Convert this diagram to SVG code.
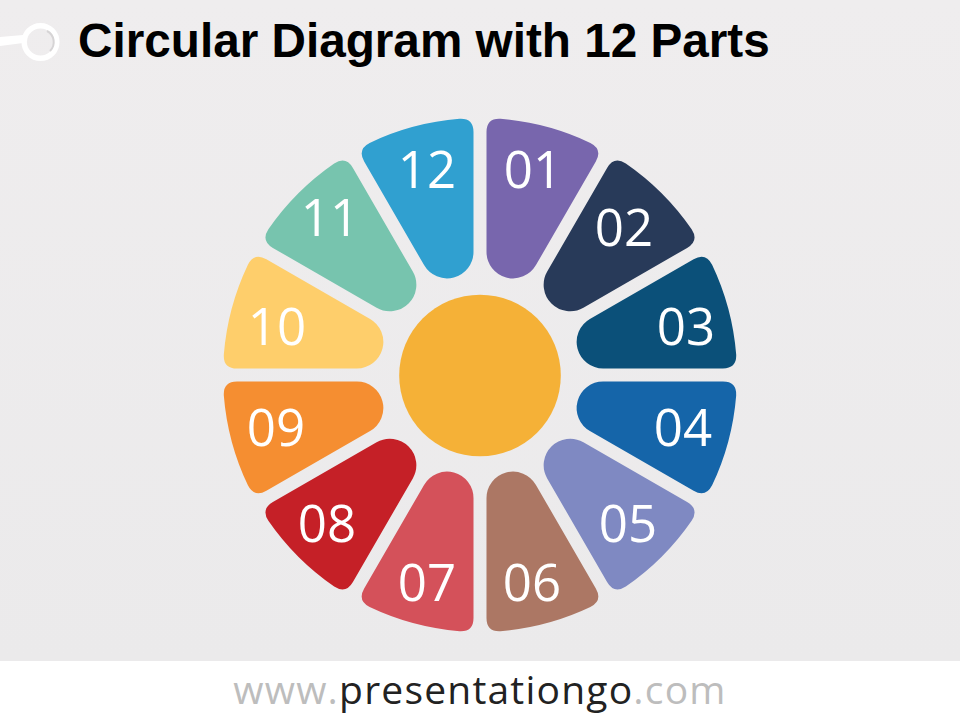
<svg xmlns="http://www.w3.org/2000/svg" width="960" height="720" viewBox="0 0 960 720">
  <style>
    .num { font-family: "Open Sans", "DejaVu Sans", sans-serif; font-size: 51px; fill: #ffffff; text-anchor: middle; }
    .title { font-family: "Liberation Sans", Arial, sans-serif; font-weight: bold; font-size: 47.7px; fill: #000000; }
    .foot { font-family: "Open Sans", "DejaVu Sans", sans-serif; font-size: 39px; text-anchor: middle; letter-spacing: 1.2px; }
    .light { fill: #BDBDBD; }
    .dark { fill: #222222; }
  </style>
  <defs>
    <linearGradient id="bg" x1="0" y1="0" x2="0" y2="1">
      <stop offset="0" stop-color="#EFEDEE"/>
      <stop offset="1" stop-color="#EBEAEB"/>
    </linearGradient>
    <path id="seg" d="M 6.5,-123.15 L 6.5,-242.92 Q 6.5,-256.92 20.48,-256.18 A 257 257 0 0 1 110.36,-232.10 Q 122.83,-225.74 115.83,-213.62 L 55.95,-109.9 A 26.5 26.5 0 0 1 6.5,-123.15 Z"/>
  </defs>

  <rect x="0" y="0" width="960" height="661" fill="url(#bg)"/>
  <rect x="0" y="661" width="960" height="59" fill="#FFFFFF"/>

  <g id="title-icon">
    <polygon points="0,37 23,35 23,43 0,46" fill="#FFFFFF"/>
    <circle cx="40.5" cy="42" r="16.3" fill="none" stroke="#FFFFFF" stroke-width="5.5"/>
    <path d="M 47,31 A 12.5 12.5 0 0 1 50,51" fill="none" stroke="#D6D4D5" stroke-width="2"/>
  </g>
  <text id="title" class="title" x="78" y="57">Circular Diagram with 12 Parts</text>

  <g id="center"><circle cx="480" cy="375.5" r="80.8" fill="#F5B137"/></g>

  <g id="part-01"><use href="#seg" transform="translate(480,375) rotate(0)" fill="#7866AD"/><text class="num" x="533" y="188">01</text></g>
  <g id="part-02"><use href="#seg" transform="translate(480,375) rotate(30)" fill="#283A59"/><text class="num" x="624" y="246">02</text></g>
  <g id="part-03"><use href="#seg" transform="translate(480,375) rotate(60)" fill="#0B5079"/><text class="num" x="686" y="345">03</text></g>
  <g id="part-04"><use href="#seg" transform="translate(480,375) rotate(90)" fill="#1565A9"/><text class="num" x="683" y="446">04</text></g>
  <g id="part-05"><use href="#seg" transform="translate(480,375) rotate(120)" fill="#7F89C2"/><text class="num" x="628" y="542">05</text></g>
  <g id="part-06"><use href="#seg" transform="translate(480,375) rotate(150)" fill="#AC7764"/><text class="num" x="532" y="601">06</text></g>
  <g id="part-07"><use href="#seg" transform="translate(480,375) rotate(180)" fill="#D4515A"/><text class="num" x="427" y="601">07</text></g>
  <g id="part-08"><use href="#seg" transform="translate(480,375) rotate(210)" fill="#C52027"/><text class="num" x="327" y="542">08</text></g>
  <g id="part-09"><use href="#seg" transform="translate(480,375) rotate(240)" fill="#F58E31"/><text class="num" x="276" y="446">09</text></g>
  <g id="part-10"><use href="#seg" transform="translate(480,375) rotate(270)" fill="#FECE6B"/><text class="num" x="277" y="345">10</text></g>
  <g id="part-11"><use href="#seg" transform="translate(480,375) rotate(300)" fill="#77C4AE"/><text class="num" x="330" y="236">11</text></g>
  <g id="part-12"><use href="#seg" transform="translate(480,375) rotate(330)" fill="#30A0D0"/><text class="num" x="427" y="188">12</text></g>

  <g id="connectors"></g>

  <text id="footer" class="foot" x="480" y="704"><tspan class="light">www.</tspan><tspan class="dark">presentationgo</tspan><tspan class="light">.com</tspan></text>
</svg>
